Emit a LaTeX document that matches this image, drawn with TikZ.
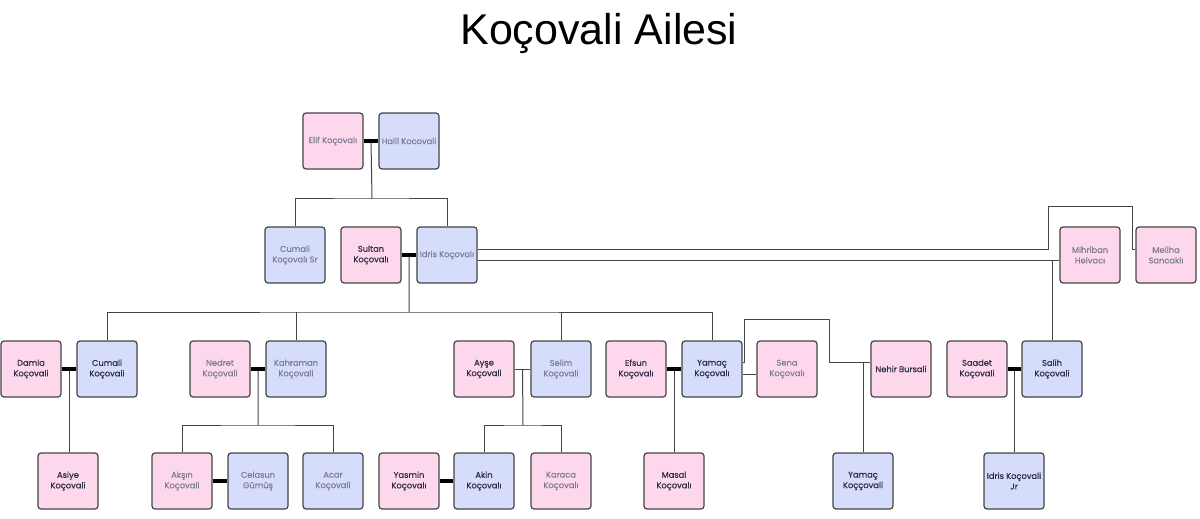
\documentclass[tikz,border=0pt]{standalone}
\usepackage{fontspec}
\setmainfont{Liberation Sans}
\newfontfamily\boxfont{Poppins}[FakeBold=0.2]
\newfontfamily\boxfontdark{Poppins}[FakeBold=0.6]
\usetikzlibrary{calc}
\definecolor{pinkfill}{HTML}{FDD7EC}
\definecolor{bluefill}{HTML}{D5DDFB}
\definecolor{darktext}{HTML}{2E2E48}
\definecolor{greytext}{HTML}{7C7C92}
\definecolor{edge}{HTML}{444444}
\begin{document}
\begin{tikzpicture}[x=1pt,y=-1pt,
  person/.style={draw=edge,line width=1.2pt,rounded corners=3pt,minimum width=60pt,minimum height=56pt,
    inner sep=1pt,align=center},
  she/.style={person,fill=pinkfill},
  he/.style={person,fill=bluefill},
  dark/.style={text=darktext,font=\boxfontdark\fontsize{8.3}{10.5}\selectfont},
  grey/.style={text=greytext,font=\boxfont\fontsize{8.3}{10.5}\selectfont},
  line/.style={draw=edge,line width=1pt},
  wed/.style={draw=black,line width=3.5pt}]
\useasboundingbox (0,0) rectangle (1200,519);
\node[anchor=base] (title) at (599,45) {\fontsize{43}{50}\selectfont Koçovali Ailesi};
% generation 1
\node[she,grey] (elif) at (333,141) {Elif Koçovalı};
\node[he,grey] (halil) at (409,141) {Halil Kocovali};
% generation 2
\node[he,grey] (cumaliSr) at (295,255) {Cumali\\Koçovalı Sr};
\node[she,dark] (sultan) at (371,255) {Sultan\\Koçovalı};
\node[he,grey] (idris) at (447,255) {Idris Koçovalı};
\node[she,grey] (mihriban) at (1090,255) {Mihriban\\Helvacı};
\node[she,grey] (meliha) at (1166,255) {Meliha\\Sancaklı};
% generation 3
\node[she,dark] (damla) at (31,369) {Damla\\Koçovali};
\node[he,dark] (cumali) at (107,369) {Cumali\\Koçovali};
\node[she,grey] (nedret) at (220,369) {Nedret\\Koçovali};
\node[he,grey] (kahraman) at (296,369) {Kahraman\\Koçovali};
\node[she,dark] (ayse) at (484,369) {Ayşe\\Koçovali};
\node[he,grey] (selim) at (561,369) {Selim\\Koçovali};
\node[she,dark] (efsun) at (636,369) {Efsun\\Koçovalı};
\node[he,dark] (yamac) at (712,369) {Yamaç\\Koçovalı};
\node[she,grey] (sena) at (787,369) {Sena\\Koçovalı};
\node[she,dark] (nehir) at (901,369) {Nehir Bursali};
\node[she,dark] (saadet) at (977,369) {Saadet\\Koçovali};
\node[he,dark] (salih) at (1052,369) {Salih\\Koçovali};
% generation 4
\node[she,dark] (asiye) at (68,481) {Asiye\\Koçovali};
\node[she,grey] (aksin) at (182,481) {Akşın\\Koçovali};
\node[he,grey] (celasun) at (258,481) {Celasun\\Gümüş};
\node[he,grey] (acar) at (333,481) {Acar\\Koçovali};
\node[she,dark] (yasmin) at (409,481) {Yasmin\\Koçovalı};
\node[he,dark] (akin) at (484,481) {Akin\\Koçovalı};
\node[she,grey] (karaca) at (561,481) {Karaca\\Koçovalı};
\node[she,dark] (masal) at (674,481) {Masal\\Koçovalı};
\node[he,dark] (yamacJr) at (863,481) {Yamaç\\Koççovali};
\node[he,dark] (idrisJr) at (1014,481) {Idris Koçovali\\Jr};
% joints
\coordinate (m1) at ($(elif.east)!.5!(halil.west)$);
\coordinate (b1) at (372,198);
\coordinate (m2) at ($(sultan.east)!.5!(idris.west)$);
\coordinate (b2) at (409,312);
\coordinate (k1) at (1048,206);
\coordinate (k2) at (1132,206);
\coordinate (m3) at (1052,260);
\coordinate (m4) at ($(damla.east)!.5!(cumali.west)$);
\coordinate (m5) at ($(nedret.east)!.5!(kahraman.west)$);
\coordinate (b5) at (258,425);
\coordinate (m6) at ($(ayse.east)!.5!(selim.west)$);
\coordinate (b6) at (523,425);
\coordinate (m7) at ($(efsun.east)!.5!(yamac.west)$);
\coordinate (k3) at (744,319);
\coordinate (k4) at (829,319);
\coordinate (m8) at (863,362);
\coordinate (m9) at ($(saadet.east)!.5!(salih.west)$);
% children
\draw[line] (m1) -- (b1);
\draw[line] (cumaliSr.north) |- (b1) -| (idris.north);
\draw[line] (m2) -- (b2);
\draw[line] (cumali.north) |- (b2) -| (yamac.north);
\draw[line] (kahraman.north) -- (kahraman.north |- b2);
\draw[line] (selim.north) -- (selim.north |- b2);
\draw[line] (m3) -- (salih.north);
\draw[line] (m4) -- (m4 |- asiye.north);
\draw[line] (m5) -- (b5);
\draw[line] (aksin.north) |- (b5) -| (acar.north);
\draw[line] (m6) -- (b6);
\draw[line] (akin.north) |- (b6) -| (karaca.north);
\draw[line] (m7) -- (m7 |- masal.north);
\draw[line] (m8) -- (yamacJr.north);
\draw[line] (m9) -- (m9 |- idrisJr.north);
% couples
\draw[wed] (elif) -- (halil);
\draw[wed] (sultan) -- (idris);
\draw[line] ([yshift=6pt]idris.east) -| (k1) -- (k2) |- ([yshift=6pt]meliha.west);
\draw[line] ([yshift=-5pt]idris.east) -- ([yshift=-5pt]mihriban.west);
\draw[wed] (damla) -- (cumali);
\draw[wed] (nedret) -- (kahraman);
\draw[line] (ayse) -- (selim);
\draw[wed] (efsun) -- (yamac);
\draw[line] ([yshift=-5pt]yamac.east) -- ([yshift=-5pt]sena.west);
\draw[line] ([yshift=7pt]yamac.east) -| (k3) -- (k4) |- ([yshift=7pt]nehir.west);
\draw[wed] (saadet) -- (salih);
\draw[wed] (aksin) -- (celasun);
\draw[wed] (yasmin) -- (akin);
\end{tikzpicture}
\end{document}
